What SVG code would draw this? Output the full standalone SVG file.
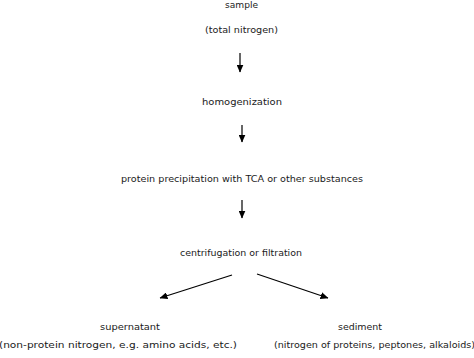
<svg xmlns="http://www.w3.org/2000/svg" width="474" height="358" viewBox="0 0 474 358">
<defs>
<marker id="ah" markerWidth="8" markerHeight="7" refX="7.5" refY="3.5" orient="auto" markerUnits="userSpaceOnUse">
<path d="M0,0 L8,3.5 L0,7 Z" fill="#000"/>
</marker>
<style>
text{font-family:"DejaVu Sans","Liberation Sans",sans-serif;font-size:9.5px;fill:#1a1a1a;text-anchor:middle}
.c line{stroke:#000;stroke-width:1.2;marker-end:url(#ah)}
</style>
</defs>
<rect width="474" height="358" fill="#fff"/>
<g id="n-sample"><text x="241.5" y="8" textLength="33" lengthAdjust="spacingAndGlyphs">sample</text>
<text x="241.5" y="33" textLength="73" lengthAdjust="spacingAndGlyphs">(total nitrogen)</text></g>
<g id="n-homog"><text x="242" y="105" textLength="80" lengthAdjust="spacingAndGlyphs">homogenization</text></g>
<g id="n-precip"><text x="242" y="182" textLength="242" lengthAdjust="spacingAndGlyphs">protein precipitation with TCA or other substances</text></g>
<g id="n-centri"><text x="241" y="256" textLength="122" lengthAdjust="spacingAndGlyphs">centrifugation or filtration</text></g>
<g id="n-super"><text x="130" y="330" textLength="60" lengthAdjust="spacingAndGlyphs">supernatant</text>
<text x="118" y="348" textLength="238" lengthAdjust="spacingAndGlyphs">(non-protein nitrogen, e.g. amino acids, etc.)</text></g>
<g id="n-sed"><text x="360" y="330" textLength="44" lengthAdjust="spacingAndGlyphs">sediment</text>
<text x="374.5" y="348" textLength="201" lengthAdjust="spacingAndGlyphs">(nitrogen of proteins, peptones, alkaloids)</text></g>
<g class="c" id="connectors">
<line x1="240" y1="53" x2="240" y2="72"/>
<line x1="242" y1="125" x2="242" y2="142"/>
<line x1="242" y1="200" x2="242" y2="218"/>
<line x1="232" y1="275" x2="160" y2="298"/>
<line x1="257" y1="274" x2="328" y2="298"/>
</g>
</svg>
